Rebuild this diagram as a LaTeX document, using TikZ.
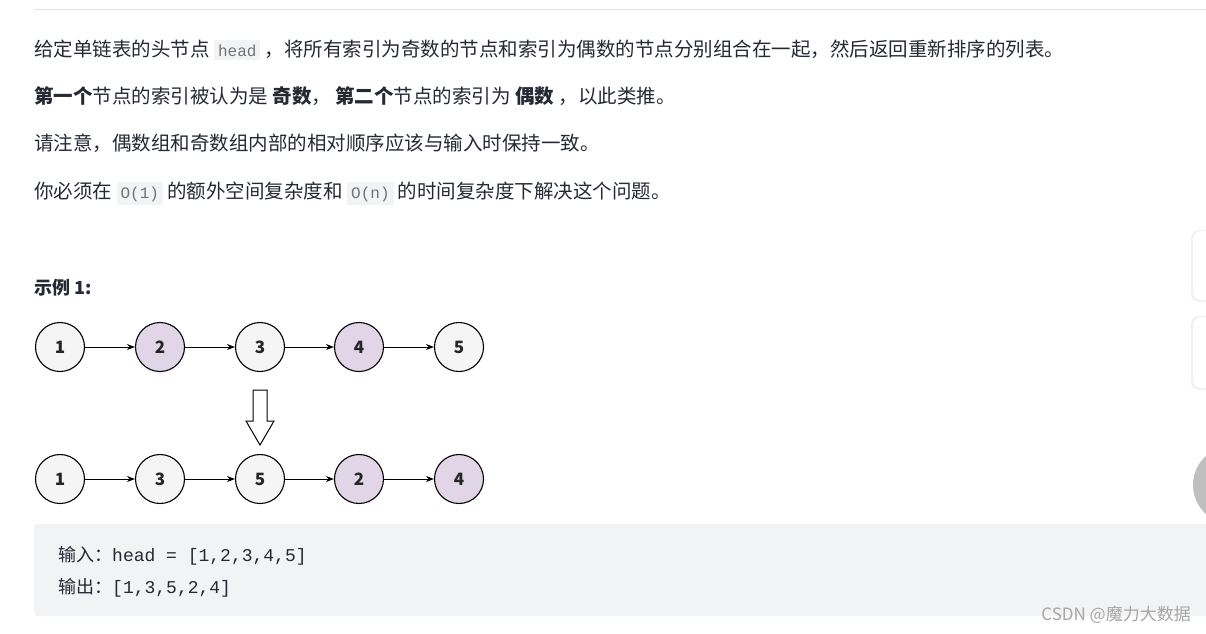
\documentclass[tikz,border=0pt]{standalone}
\usepackage{fontspec}
\setmainfont{Noto Sans CJK SC}
\setmonofont{Liberation Mono}
\usetikzlibrary{arrows.meta,shadows}
\definecolor{codebg}{HTML}{F2F3F5}
\definecolor{oddc}{HTML}{F5F5F5}
\definecolor{evenc}{HTML}{E1D5E7}
\definecolor{txt}{HTML}{252933}
\newcommand{\icode}[1]{{\setlength{\fboxsep}{4pt}\colorbox{codebg}{\ttfamily\color{gray!90!black}\fontsize{16}{16}\selectfont #1}}}
\begin{document}
\begin{tikzpicture}[x=1pt,y=-1pt,
  line/.style={anchor=base west,inner sep=0,text=txt,font=\fontsize{19.5}{19.5}\selectfont},
  odd/.style={circle,draw=black,line width=1.1pt,fill=oddc,minimum size=49pt,inner sep=0,font=\bfseries\fontsize{17}{17}\selectfont,text=black!85},
  even/.style={odd,fill=evenc},
  link/.style={-{Stealth[length=8pt,width=6pt]},line width=1pt}]
\useasboundingbox[fill=white] (0,0) rectangle (1206,633);
\draw[gray!20,line width=1pt] (34,9) -- (1206,9);
\node[line] (t1) at (34,56) {给定单链表的头节点 \icode{head} ，将所有索引为奇数的节点和索引为偶数的节点分别组合在一起，然后返回重新排序的列表。};
\node[line] (t2) at (34,103) {\textbf{第一个}节点的索引被认为是 \textbf{奇数}， \textbf{第二个}节点的索引为 \textbf{偶数} ，以此类推。};
\node[line] (t3) at (34,150) {请注意，偶数组和奇数组内部的相对顺序应该与输入时保持一致。};
\node[line] (t4) at (34,198) {你必须在 \icode{O(1)} 的额外空间复杂度和 \icode{O(n)} 的时间复杂度下解决这个问题。};
\node[line,font=\bfseries\fontsize{18}{18}\selectfont] (ex) at (34,294) {示例 1:};
% top list
\node[odd] (a1) at (60,347) {1};
\node[even] (a2) at (160,347) {2};
\node[odd] (a3) at (260,347) {3};
\node[even] (a4) at (359,347) {4};
\node[odd] (a5) at (459,347) {5};
\draw[link] (a1) -- (a2); \draw[link] (a2) -- (a3); \draw[link] (a3) -- (a4); \draw[link] (a4) -- (a5);
% hollow arrow
\draw[line width=1pt,fill=white] (253,390) -- (267,390) -- (267,421) -- (274,421) -- (260,445) -- (246,421) -- (253,421) -- cycle;
% bottom list
\node[odd] (b1) at (60,479) {1};
\node[odd] (b2) at (160,479) {3};
\node[odd] (b3) at (260,479) {5};
\node[even] (b4) at (359,479) {2};
\node[even] (b5) at (459,479) {4};
\draw[link] (b1) -- (b2); \draw[link] (b2) -- (b3); \draw[link] (b3) -- (b4); \draw[link] (b4) -- (b5);
% code block
\fill[codebg,rounded corners=3pt] (34,524) rectangle (1220,616);
\node[line,font=\fontsize{18}{18}\selectfont] (c1) at (58,561) {输入：\ttfamily head = [1,2,3,4,5]};
\node[line,font=\fontsize{18}{18}\selectfont] (c2) at (58,593) {输出：\ttfamily [1,3,5,2,4]};
% right side widgets
\fill[black!6,rounded corners=8pt] (1191,230) rectangle (1220,302);
\fill[white,rounded corners=8pt] (1193,231) rectangle (1220,300);
\fill[black!6,rounded corners=8pt] (1191,316) rectangle (1220,390);
\fill[white,rounded corners=8pt] (1193,317) rectangle (1220,388);
\fill[black!25] (1232,485) circle (39);
\node[anchor=base east,inner sep=0,text=gray!70,font=\fontsize{17}{17}\selectfont] (wm) at (1191,620) {CSDN @魔力大数据};
\end{tikzpicture}
\end{document}
